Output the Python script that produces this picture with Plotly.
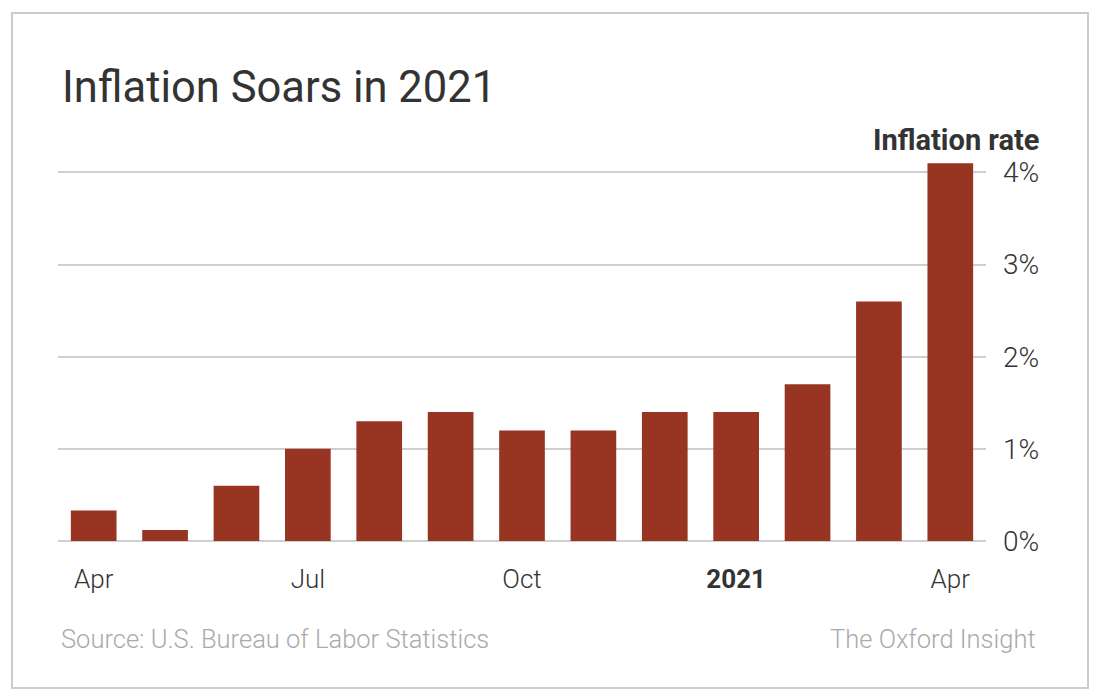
import plotly.graph_objects as go

months = ["Apr 2020", "May 2020", "Jun 2020", "Jul 2020", "Aug 2020", "Sep 2020",
          "Oct 2020", "Nov 2020", "Dec 2020", "Jan 2021", "Feb 2021", "Mar 2021", "Apr 2021"]
inflation = [0.33, 0.12, 0.6, 1.0, 1.3, 1.4, 1.2, 1.2, 1.4, 1.4, 1.7, 2.6, 4.1]
tick_positions = ["Apr 2020", "Jul 2020", "Oct 2020", "Jan 2021", "Apr 2021"]
tick_labels = ["Apr", "Jul", "Oct", "<b>2021</b>", "Apr"]
y_ticks = [0, 1, 2, 3, 4]
y_tick_labels = ["0%", "1%", "2%", "3%", "4%"]

W, H = 1100, 700
OFF = 8                 # page body margin offset
L, R = 58 - OFF, 986 - OFF   # plot area pixel edges (figure coords)
T, B = 154 - OFF, 541 - OFF

def px(x):
    return (x - OFF - L) / (R - L)

def py(y):
    return (B - (y - OFF)) / (B - T)

FONT = "Roboto, 'Helvetica Neue', Arial, sans-serif"

fig = go.Figure(go.Bar(
    x=months, y=inflation,
    marker=dict(color="#983422", line=dict(width=0)),
    hoverinfo="x+y",
))

fig.update_layout(
    width=W, height=H,
    margin=dict(l=L, r=W - R, t=T, b=H - B),
    paper_bgcolor="white", plot_bgcolor="white",
    bargap=0.36,
    showlegend=False,
    font=dict(family=FONT, color="#333333"),
    xaxis=dict(
        type="category",
        tickmode="array", tickvals=tick_positions, ticktext=tick_labels,
        showgrid=False, showline=False, zeroline=False, ticks="",
        tickfont=dict(size=26, color="#333333", family=FONT, weight=300),
        ticklabelstandoff=20,
        range=[-0.5, len(months) - 0.5],
    ),
    yaxis=dict(
        side="right", range=[0, 4.2],
        tickmode="array", tickvals=y_ticks, ticktext=y_tick_labels,
        showgrid=True, gridcolor="#cfcfcf", gridwidth=1.5,
        zeroline=True, zerolinecolor="#cfcfcf", zerolinewidth=1.5,
        showline=False, ticks="",
        tickfont=dict(size=28, color="#333333", family=FONT, weight=300),
        ticklabelstandoff=16,
    ),
    shapes=[dict(
        type="rect", xref="paper", yref="paper",
        x0=px(12), x1=px(1088), y0=py(688), y1=py(13),
        line=dict(color="#cccccc", width=2), fillcolor="rgba(0,0,0,0)", layer="below",
    )],
    annotations=[
        dict(text="Inflation Soars in 2021", xref="paper", yref="paper",
             x=px(60), y=py(88), xanchor="left", yanchor="middle", showarrow=False,
             font=dict(size=43.5, color="#333333", family=FONT)),
        dict(text="<b>Inflation rate</b>", xref="paper", yref="paper",
             x=px(1042), y=py(140), xanchor="right", yanchor="middle", showarrow=False,
             font=dict(size=29, color="#333333", family=FONT)),
        dict(text="Source: U.S. Bureau of Labor Statistics", xref="paper", yref="paper",
             x=px(59), y=py(639), xanchor="left", yanchor="middle", showarrow=False,
             font=dict(size=25.5, color="#aaaaaa", family=FONT, weight=300)),
        dict(text="The Oxford Insight", xref="paper", yref="paper",
             x=px(1038), y=py(639), xanchor="right", yanchor="middle", showarrow=False,
             font=dict(size=25.5, color="#aaaaaa", family=FONT, weight=300)),
    ],
)

fig.write_html("out.html")
